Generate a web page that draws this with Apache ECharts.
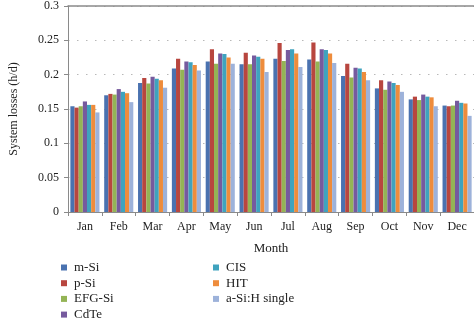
<!DOCTYPE html>
<html>
<head>
<meta charset="utf-8">
<script src="https://cdn.jsdelivr.net/npm/echarts@6/dist/echarts.min.js"></script>
<style>html,body{margin:0;padding:0;background:#fff}#c{width:474px;height:325px}</style>
</head>
<body>
<div id="c"></div>
<script>
const months = ['Jan','Feb','Mar','Apr','May','Jun','Jul','Aug','Sep','Oct','Nov','Dec'];
const seriesNames = ['m-Si','p-Si','EFG-Si','CdTe','CIS','HIT','a-Si:H single'];
const mSi   = [0.154,0.170,0.188,0.209,0.219,0.215,0.223,0.222,0.198,0.180,0.164,0.155];
const pSi   = [0.152,0.172,0.195,0.223,0.237,0.232,0.246,0.247,0.216,0.192,0.168,0.154];
const efgSi = [0.154,0.171,0.187,0.207,0.216,0.215,0.220,0.219,0.196,0.178,0.163,0.155];
const cdTe  = [0.161,0.179,0.197,0.219,0.231,0.228,0.236,0.237,0.210,0.190,0.171,0.162];
const cis   = [0.156,0.175,0.194,0.218,0.230,0.226,0.237,0.236,0.209,0.188,0.168,0.159];
const hit   = [0.156,0.173,0.192,0.214,0.225,0.223,0.231,0.231,0.204,0.185,0.167,0.158];
const aSiH  = [0.145,0.160,0.181,0.206,0.216,0.204,0.211,0.217,0.192,0.175,0.154,0.140];
const allData = [mSi,pSi,efgSi,cdTe,cis,hit,aSiH];
const colors = ['#4A72B0','#B8463F','#94B455','#765A9E','#3FA3BE','#EE8C3C','#9DB2DA'];
const font = "'Liberation Serif','DejaVu Serif',serif";

const chart = echarts.init(document.getElementById('c'), null, {renderer:'canvas'});
const textStyle = {fontFamily: font, fontSize: 13, color: '#222', lineHeight: 15, padding:[0,0,0,2]};
chart.setOption({
  animation: false,
  color: colors,
  textStyle: {fontFamily: font},
  grid: {left: 62, right: 0, top: 6, bottom: 113},
  legend: [
    {data: seriesNames.slice(0,4), orient:'vertical', left: 61, top: 260, height: 65, padding: 0, itemWidth: 6, itemHeight: 6, itemGap: 0.7, icon:'rect', textStyle},
    {data: seriesNames.slice(4), orient:'vertical', left: 213, top: 260, height: 65, padding: 0, itemWidth: 6, itemHeight: 6, itemGap: 0.7, icon:'rect', textStyle}
  ],
  xAxis: [{
    type: 'category', data: months, position: 'bottom',
    name: 'Month', nameLocation: 'middle', nameGap: 30,
    nameTextStyle: {fontFamily: font, fontSize: 13, color: '#222'},
    axisLine: {lineStyle: {color: '#8a8a8a', width: 1}},
    axisTick: {show: true, length: 4, lineStyle: {color: '#8a8a8a'}},
    axisLabel: {fontFamily: font, fontSize: 12, color: '#222', margin: 9},
    splitLine: {show: false}
  },{
    type: 'category', data: months, position: 'top',
    axisLine: {show: true, lineStyle: {color: '#8a8a8a', width: 1.5}},
    axisTick: {show: false}, axisLabel: {show: false}, splitLine: {show: false}
  }],
  yAxis: {
    type: 'value', min: 0, max: 0.3, interval: 0.05,
    name: 'System losses (h/d)', nameLocation: 'middle', nameGap: 48,
    nameTextStyle: {fontFamily: font, fontSize: 12, color: '#222'},
    axisLine: {show: true, lineStyle: {color: '#8a8a8a', width: 1}},
    axisTick: {show: true, length: 4, lineStyle: {color: '#8a8a8a'}},
    axisLabel: {fontFamily: font, fontSize: 12, color: '#222', margin: 9,
      formatter: v => String(+v.toFixed(2))},
    splitLine: {show: true, lineStyle: {color: '#b8b8b8', type: [1.5, 7.5], width: 1}}
  },
  series: seriesNames.map((n, i) => ({
    name: n, type: 'bar', data: allData[i], xAxisIndex: 0,
    barGap: '0%', barCategoryGap: '14%'
  }))
});
</script>
</body>
</html>
